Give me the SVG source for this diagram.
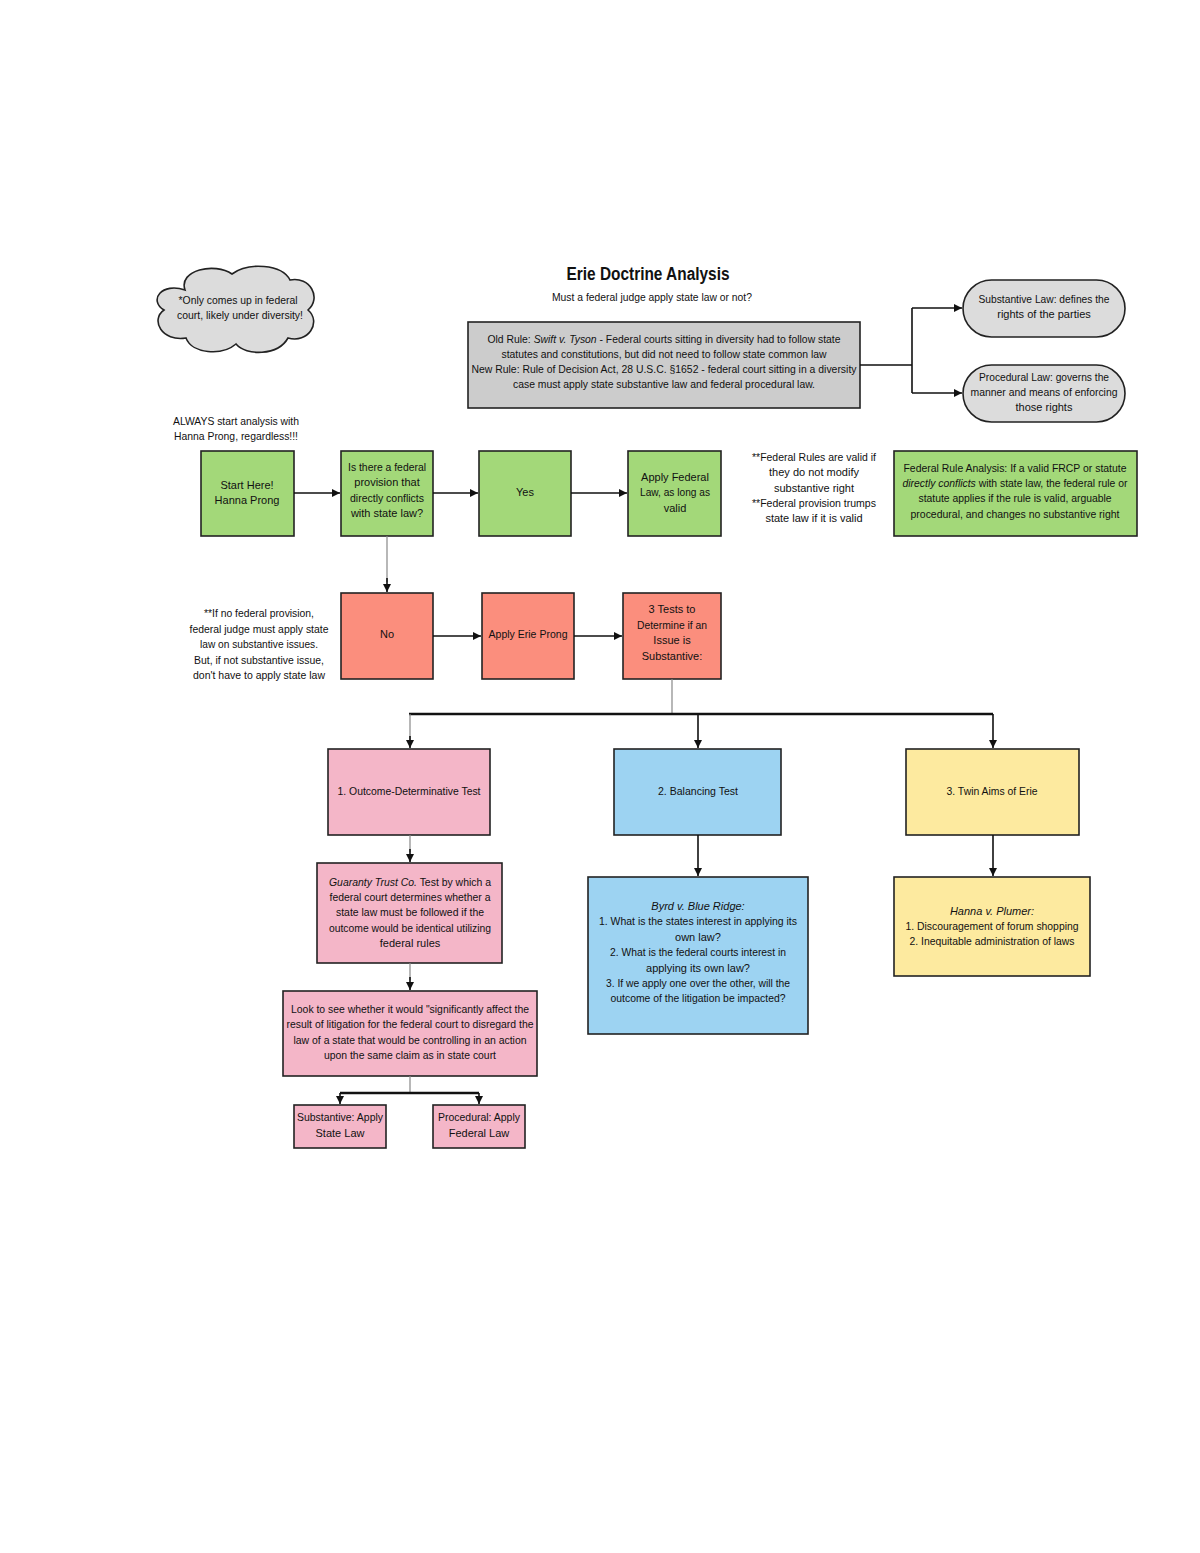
<svg xmlns="http://www.w3.org/2000/svg" width="1200" height="1553" viewBox="0 0 1200 1553">
<defs>
<style>
text{font-family:"Liberation Sans Narrow","Liberation Sans",Arial,sans-serif;font-size:11px;fill:#111;text-anchor:middle}
.title{font-size:18px;font-weight:bold}
.sub{font-size:10.5px}
.box{stroke:#222;stroke-width:1.6}
.gray{fill:#cccccc}
.lgray{fill:#dcdcdc}
.green{fill:#a3d879}
.red{fill:#fb8e7d}
.pink{fill:#f4b6c8}
.blue{fill:#9dd3f2}
.yellow{fill:#fdea9f}
.con{fill:none;stroke:#111;stroke-width:1.6}
.gcon{fill:none;stroke:#888;stroke-width:1.2}
.tcon{fill:none;stroke:#111;stroke-width:2.4}
</style>
<marker id="ah" viewBox="0 0 10 10" refX="10" refY="5" markerWidth="8" markerHeight="8" markerUnits="userSpaceOnUse" orient="auto">
<path d="M0,0 L10,5 L0,10 z" fill="#111"/>
</marker>
</defs>
<rect width="1200" height="1553" fill="#fff"/>

<g id="title">
<text class="title" x="648" y="280" textLength="163" lengthAdjust="spacingAndGlyphs">Erie Doctrine Analysis</text>
<text class="sub" x="652" y="301" textLength="200" lengthAdjust="spacingAndGlyphs">Must a federal judge apply state law or not?</text>
</g>

<g id="cloud">
<path class="box lgray" d="M185,290 C178,270 215,262 232,274 C248,262 282,264 290,280 C310,276 322,298 308,310 C322,322 308,344 288,338 C278,356 246,356 236,344 C222,356 192,354 186,338 C162,342 150,320 164,310 C148,300 162,282 185,290 z"/>
<text x="238" y="304" textLength="119" lengthAdjust="spacingAndGlyphs">*Only comes up in federal</text>
<text x="240" y="319" textLength="126" lengthAdjust="spacingAndGlyphs">court, likely under diversity!</text>
</g>

<g id="rules">
<rect class="box gray" x="468" y="322" width="392" height="86"/>
<text x="664" y="343" textLength="353" lengthAdjust="spacingAndGlyphs">Old Rule: <tspan font-style="italic">Swift v. Tyson</tspan> - Federal courts sitting in diversity had to follow state</text>
<text x="664" y="358" textLength="325" lengthAdjust="spacingAndGlyphs">statutes and constitutions, but did not need to follow state common law</text>
<text x="664" y="373" textLength="385" lengthAdjust="spacingAndGlyphs">New Rule: Rule of Decision Act, 28 U.S.C. §1652 - federal court sitting in a diversity</text>
<text x="664" y="388" textLength="302" lengthAdjust="spacingAndGlyphs">case must apply state substantive law and federal procedural law.</text>
</g>

<g id="substantive">
<rect class="box lgray" x="963" y="280" width="162" height="57" rx="28.5"/>
<text x="1044" y="303" textLength="131" lengthAdjust="spacingAndGlyphs">Substantive Law: defines the</text>
<text x="1044" y="318">rights of the parties</text>
</g>
<g id="procedural">
<rect class="box lgray" x="963" y="365" width="162" height="57" rx="28.5"/>
<text x="1044" y="381" textLength="130" lengthAdjust="spacingAndGlyphs">Procedural Law: governs the</text>
<text x="1044" y="396" textLength="147" lengthAdjust="spacingAndGlyphs">manner and means of enforcing</text>
<text x="1044" y="411">those rights</text>
</g>

<g id="always">
<text x="236" y="425" textLength="126" lengthAdjust="spacingAndGlyphs">ALWAYS start analysis with</text>
<text x="236" y="440" textLength="124" lengthAdjust="spacingAndGlyphs">Hanna Prong, regardless!!!</text>
</g>

<g id="start">
<rect class="box green" x="201" y="451" width="93" height="85"/>
<text x="247" y="489">Start Here!</text>
<text x="247" y="504">Hanna Prong</text>
</g>
<g id="question">
<rect class="box green" x="341" y="451" width="92" height="85"/>
<text x="387" y="471" textLength="78" lengthAdjust="spacingAndGlyphs">Is there a federal</text>
<text x="387" y="486">provision that</text>
<text x="387" y="502" textLength="74" lengthAdjust="spacingAndGlyphs">directly conflicts</text>
<text x="387" y="517">with state law?</text>
</g>
<g id="yes">
<rect class="box green" x="479" y="451" width="92" height="85"/>
<text x="525" y="496">Yes</text>
</g>
<g id="applyfed">
<rect class="box green" x="628" y="451" width="93" height="85"/>
<text x="675" y="481">Apply Federal</text>
<text x="675" y="496" textLength="70" lengthAdjust="spacingAndGlyphs">Law, as long as</text>
<text x="675" y="512">valid</text>
</g>
<g id="fednote">
<text x="814" y="461" textLength="124" lengthAdjust="spacingAndGlyphs">**Federal Rules are valid if</text>
<text x="814" y="476">they do not modify</text>
<text x="814" y="492">substantive right</text>
<text x="814" y="507" textLength="124" lengthAdjust="spacingAndGlyphs">**Federal provision trumps</text>
<text x="814" y="522">state law if it is valid</text>
</g>
<g id="fedrule">
<rect class="box green" x="894" y="451" width="243" height="85"/>
<text x="1015" y="472" textLength="223" lengthAdjust="spacingAndGlyphs">Federal Rule Analysis: If a valid FRCP or statute</text>
<text x="1015" y="487" textLength="225" lengthAdjust="spacingAndGlyphs"><tspan font-style="italic">directly conflicts</tspan> with state law, the federal rule or</text>
<text x="1015" y="502" textLength="193" lengthAdjust="spacingAndGlyphs">statute applies if the rule is valid, arguable</text>
<text x="1015" y="518" textLength="209" lengthAdjust="spacingAndGlyphs">procedural, and changes no substantive right</text>
</g>

<g id="nonote">
<text x="259" y="617" textLength="110" lengthAdjust="spacingAndGlyphs">**If no federal provision,</text>
<text x="259" y="633" textLength="139" lengthAdjust="spacingAndGlyphs">federal judge must apply state</text>
<text x="259" y="648" textLength="118" lengthAdjust="spacingAndGlyphs">law on substantive issues.</text>
<text x="259" y="664" textLength="130" lengthAdjust="spacingAndGlyphs">But, if not substantive issue,</text>
<text x="259" y="679" textLength="132" lengthAdjust="spacingAndGlyphs">don't have to apply state law</text>
</g>
<g id="no">
<rect class="box red" x="341" y="593" width="92" height="86"/>
<text x="387" y="638">No</text>
</g>
<g id="erie">
<rect class="box red" x="482" y="593" width="92" height="86"/>
<text x="528" y="638" textLength="79" lengthAdjust="spacingAndGlyphs">Apply Erie Prong</text>
</g>
<g id="threetests">
<rect class="box red" x="623" y="593" width="98" height="86"/>
<text x="672" y="613">3 Tests to</text>
<text x="672" y="629" textLength="70" lengthAdjust="spacingAndGlyphs">Determine if an</text>
<text x="672" y="644">Issue is</text>
<text x="672" y="660">Substantive:</text>
</g>

<g id="outcome">
<rect class="box pink" x="328" y="749" width="162" height="86"/>
<text x="409" y="795" textLength="143" lengthAdjust="spacingAndGlyphs">1. Outcome-Determinative Test</text>
</g>
<g id="balancing">
<rect class="box blue" x="614" y="749" width="167" height="86"/>
<text x="698" y="795" textLength="80" lengthAdjust="spacingAndGlyphs">2. Balancing Test</text>
</g>
<g id="twinaims">
<rect class="box yellow" x="906" y="749" width="173" height="86"/>
<text x="992" y="795" textLength="91" lengthAdjust="spacingAndGlyphs">3. Twin Aims of Erie</text>
</g>

<g id="guaranty">
<rect class="box pink" x="317" y="863" width="185" height="100"/>
<text x="410" y="886" textLength="162" lengthAdjust="spacingAndGlyphs"><tspan font-style="italic">Guaranty Trust Co.</tspan> Test by which a</text>
<text x="410" y="901" textLength="161" lengthAdjust="spacingAndGlyphs">federal court determines whether a</text>
<text x="410" y="916" textLength="148" lengthAdjust="spacingAndGlyphs">state law must be followed if the</text>
<text x="410" y="932" textLength="162" lengthAdjust="spacingAndGlyphs">outcome would be identical utilizing</text>
<text x="410" y="947">federal rules</text>
</g>
<g id="lookto">
<rect class="box pink" x="283" y="991" width="254" height="85"/>
<text x="410" y="1013" textLength="238" lengthAdjust="spacingAndGlyphs">Look to see whether it would "significantly affect the</text>
<text x="410" y="1028" textLength="247" lengthAdjust="spacingAndGlyphs">result of litigation for the federal court to disregard the</text>
<text x="410" y="1044" textLength="233" lengthAdjust="spacingAndGlyphs">law of a state that would be controlling in an action</text>
<text x="410" y="1059" textLength="172" lengthAdjust="spacingAndGlyphs">upon the same claim as in state court</text>
</g>
<g id="substate">
<rect class="box pink" x="294" y="1105" width="92" height="43"/>
<text x="340" y="1121" textLength="86" lengthAdjust="spacingAndGlyphs">Substantive: Apply</text>
<text x="340" y="1137">State Law</text>
</g>
<g id="procfed">
<rect class="box pink" x="433" y="1105" width="92" height="43"/>
<text x="479" y="1121" textLength="82" lengthAdjust="spacingAndGlyphs">Procedural: Apply</text>
<text x="479" y="1137">Federal Law</text>
</g>

<g id="byrd">
<rect class="box blue" x="588" y="877" width="220" height="157"/>
<text x="698" y="910" font-style="italic">Byrd v. Blue Ridge:</text>
<text x="698" y="925" textLength="198" lengthAdjust="spacingAndGlyphs">1. What is the states interest in applying its</text>
<text x="698" y="941">own law?</text>
<text x="698" y="956" textLength="176" lengthAdjust="spacingAndGlyphs">2. What is the federal courts interest in</text>
<text x="698" y="972">applying its own law?</text>
<text x="698" y="987" textLength="184" lengthAdjust="spacingAndGlyphs">3. If we apply one over the other, will the</text>
<text x="698" y="1002" textLength="175" lengthAdjust="spacingAndGlyphs">outcome of the litigation be impacted?</text>
</g>
<g id="hanna">
<rect class="box yellow" x="894" y="877" width="196" height="99"/>
<text x="992" y="915" font-style="italic">Hanna v. Plumer:</text>
<text x="992" y="930" textLength="173" lengthAdjust="spacingAndGlyphs">1. Discouragement of forum shopping</text>
<text x="992" y="945" textLength="165" lengthAdjust="spacingAndGlyphs">2. Inequitable administration of laws</text>
</g>

<g id="connectors">
<path class="con" d="M860,365 H912 M912,308 V393" />
<path class="con" d="M912,308 H962" marker-end="url(#ah)"/>
<path class="con" d="M912,393 H962" marker-end="url(#ah)"/>
<path class="con" d="M294,493 H340" marker-end="url(#ah)"/>
<path class="con" d="M433,493 H478" marker-end="url(#ah)"/>
<path class="con" d="M571,493 H627" marker-end="url(#ah)"/>
<path class="gcon" d="M387,536 V582"/>
<path class="con" d="M387,578 V592" marker-end="url(#ah)"/>
<path class="con" d="M433,636 H481" marker-end="url(#ah)"/>
<path class="con" d="M574,636 H622" marker-end="url(#ah)"/>
<path class="gcon" d="M672,679 V714"/>
<path class="tcon" d="M409,714 H993"/>
<path class="gcon" d="M410,714 V740"/>
<path class="con" d="M410,736 V748" marker-end="url(#ah)"/>
<path class="con" d="M698,714 V748" marker-end="url(#ah)"/>
<path class="con" d="M993,714 V748" marker-end="url(#ah)"/>
<path class="gcon" d="M410,835 V852"/>
<path class="con" d="M410,849 V862" marker-end="url(#ah)"/>
<path class="gcon" d="M410,963 V980"/>
<path class="con" d="M410,977 V990" marker-end="url(#ah)"/>
<path class="gcon" d="M410,1076 V1093"/>
<path class="tcon" d="M340,1093 H479"/>
<path class="con" d="M340,1093 V1104" marker-end="url(#ah)"/>
<path class="con" d="M479,1093 V1104" marker-end="url(#ah)"/>
<path class="con" d="M698,835 V876" marker-end="url(#ah)"/>
<path class="con" d="M993,835 V876" marker-end="url(#ah)"/>
</g>
</svg>
